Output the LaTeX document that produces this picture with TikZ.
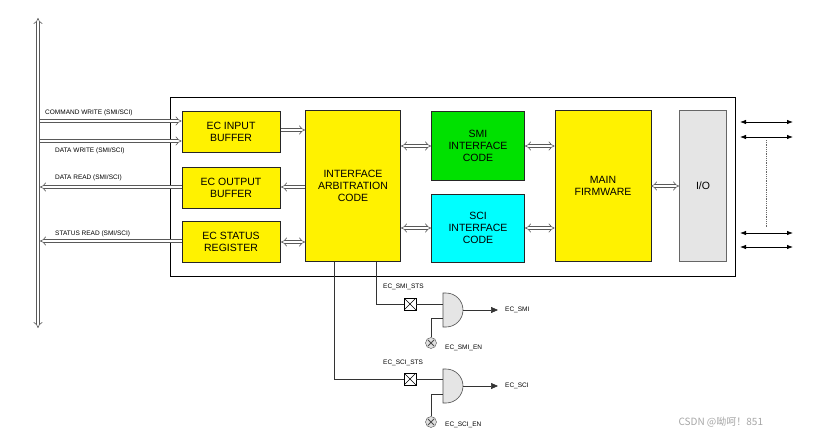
\documentclass[tikz,border=0pt]{standalone}
\usepackage{fontspec}
\setmainfont{Liberation Sans}
\newfontfamily\cjk{Noto Sans CJK SC}
\usetikzlibrary{arrows.meta}
\definecolor{cy}{RGB}{0,255,255}
\definecolor{gr}{RGB}{0,225,0}
\begin{document}
\begin{tikzpicture}[x=1pt,y=-1pt,
  blk/.style={draw=black!85,line width=0.8pt,fill=#1,align=center,font=\fontsize{10.5}{12}\selectfont,inner sep=0pt},
  hollow/.style={draw=black!65,double=white,double distance=2.6pt,line width=0.6pt,-{Implies}},
  hollow2/.style={hollow,{Implies}-{Implies}},
  lbl/.style={font=\fontsize{6.5}{7}\selectfont,inner sep=0pt,anchor=west},
  sig/.style={draw=black!80,line width=0.6pt},
  sw/.style={draw,minimum size=12pt,inner sep=0pt,path picture={\draw (path picture bounding box.north west)--(path picture bounding box.south east) (path picture bounding box.north east)--(path picture bounding box.south west);}},
  en/.style={circle,draw=black!70,fill=gray!25,minimum size=11pt,inner sep=0pt,path picture={\draw[line width=0.8pt] ([shift={(-3pt,-3pt)}]path picture bounding box.center)--([shift={(3pt,3pt)}]path picture bounding box.center) ([shift={(-3pt,3pt)}]path picture bounding box.center)--([shift={(3pt,-3pt)}]path picture bounding box.center);}},
  gate/.style={draw=black!70,fill=gray!20,line width=0.6pt},
  bi/.style={{Latex[length=6pt]}-{Latex[length=6pt]},line width=0.8pt}]
\useasboundingbox (0,0) rectangle (840,441);
% bus
\draw[hollow2] (38,328) -- (38,18);
% main box
\draw[line width=0.8pt] (170,97) rectangle (735,276);
\node[blk=yellow,minimum width=98pt,minimum height=41pt] (ib) at (231,132) {EC INPUT\\BUFFER};
\node[blk=yellow,minimum width=98pt,minimum height=41pt] (ob) at (231,188) {EC OUTPUT\\BUFFER};
\node[blk=yellow,minimum width=98pt,minimum height=41pt] (sr) at (231,242) {EC STATUS\\REGISTER};
\node[blk=yellow,minimum width=95pt,minimum height=151pt] (ia) at (353,186) {INTERFACE\\ARBITRATION\\CODE};
\node[blk=gr,minimum width=93pt,minimum height=69pt] (smi) at (478,146) {SMI\\INTERFACE\\CODE};
\node[blk=cy,minimum width=93pt,minimum height=68pt] (sci) at (478,228) {SCI\\INTERFACE\\CODE};
\node[blk=yellow,minimum width=96pt,minimum height=151pt] (mf) at (603,186) {MAIN\\FIRMWARE};
\node[blk=gray!20,draw=black!60,minimum width=47pt,minimum height=151pt] (io) at (703,186) {I/O};
% bus links
\coordinate (c1) at (40,121); \coordinate (c2) at (40,141);
\coordinate (c3) at (40,187); \coordinate (c4) at (40,241);
\draw[hollow] (c1) -- (c1 -| ib.west);
\draw[hollow] (c2) -- (c2 -| ib.west);
\draw[hollow] (c3 -| ob.west) -- (c3);
\draw[hollow] (c4 -| sr.west) -- (c4);
\node[lbl] at (45,113) {COMMAND WRITE (SMI/SCI)};
\node[lbl] at (55,151) {DATA WRITE (SMI/SCI)};
\node[lbl] at (55,178) {DATA READ (SMI/SCI)};
\node[lbl] at (55,234) {STATUS READ (SMI/SCI)};
% internal links
\coordinate (k1) at (281,130); \coordinate (k2) at (281,187); \coordinate (k3) at (281,242);
\coordinate (k4) at (401,146); \coordinate (k5) at (401,228); \coordinate (k6) at (525,146);
\coordinate (k7) at (525,228); \coordinate (k8) at (651,186);
\draw[hollow] (k1) -- (k1 -| ia.west);
\draw[hollow] (k2 -| ia.west) -- (k2);
\draw[hollow2] (k3) -- (k3 -| ia.west);
\draw[hollow2] (k4) -- (k4 -| smi.west);
\draw[hollow2] (k5) -- (k5 -| sci.west);
\draw[hollow2] (k6) -- (k6 -| mf.west);
\draw[hollow2] (k7) -- (k7 -| mf.west);
\draw[hollow2] (k8) -- (k8 -| io.west);
% external I/O lines
\foreach \y/\n in {122/a,137/b,233/c,247/d}{
  \coordinate (l\n) at (740,\y); \coordinate (r\n) at (793,\y);
  \draw[bi] (l\n) -- (r\n);}
\coordinate (dt) at (766,140); \coordinate (db) at (766,228);
\draw[black!60,densely dotted,line width=0.8pt] (dt) -- (db);
% SMI logic
\node[sw] (s1) at (410,304) {};
\draw[gate] (443,293) -- (446,293) arc[start angle=90,end angle=-90,radius=17pt] -- (443,327) -- cycle;
\coordinate (g1a) at (443,304); \coordinate (g1b) at (443,318); \coordinate (g1o) at (463,310);
\node[en] (e1) at (431,343) {};
\coordinate (o1) at (498,310);
\draw[sig] (376,262) |- (s1.west);
\draw[sig] (s1.east) -- (g1a);
\draw[sig] (e1.north) |- (g1b);
\draw[sig,-{Triangle[length=7pt,width=6pt]}] (g1o) -- (o1);
\node[lbl] at (383,287) {EC\_SMI\_STS};
\node[lbl] at (505,310) {EC\_SMI};
\node[lbl] at (445,348) {EC\_SMI\_EN};
% SCI logic
\node[sw] (s2) at (410,379) {};
\draw[gate] (443,369) -- (446,369) arc[start angle=90,end angle=-90,radius=17pt] -- (443,403) -- cycle;
\coordinate (g2a) at (443,379); \coordinate (g2b) at (443,394); \coordinate (g2o) at (463,386);
\node[en] (e2) at (431,422) {};
\coordinate (o2) at (498,386);
\draw[sig] (334,262) |- (s2.west);
\draw[sig] (s2.east) -- (g2a);
\draw[sig] (e2.north) |- (g2b);
\draw[sig,-{Triangle[length=7pt,width=6pt]}] (g2o) -- (o2);
\node[lbl] at (383,363) {EC\_SCI\_STS};
\node[lbl] at (505,386) {EC\_SCI};
\node[lbl] at (445,425) {EC\_SCI\_EN};
% watermark
\node[anchor=west,text=gray!70,font=\fontsize{10}{12}\cjk] at (675,422) {CSDN @呦呵！851};
\end{tikzpicture}
\end{document}
